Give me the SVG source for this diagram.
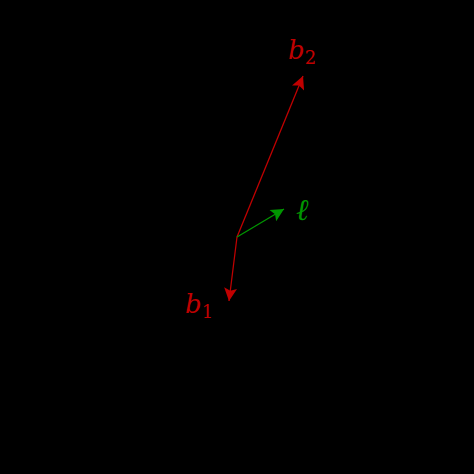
<svg xmlns="http://www.w3.org/2000/svg" width="474" height="474" viewBox="0 0 474 474">
<defs>
<marker id="ar" viewBox="0 0 10 10" refX="10" refY="5" markerWidth="16" markerHeight="13" markerUnits="userSpaceOnUse" orient="auto"><path d="M0,0 L10,5 L0,10 L2,5 Z" fill="#c00000"/></marker>
<marker id="ag" viewBox="0 0 10 10" refX="10" refY="5" markerWidth="16" markerHeight="13" markerUnits="userSpaceOnUse" orient="auto"><path d="M0,0 L10,5 L0,10 L2,5 Z" fill="#009600"/></marker>
<style>
.lr{stroke:#c00000;stroke-width:1.3;fill:none}
.lg{stroke:#009600;stroke-width:1.3;fill:none}
.t{font-family:"DejaVu Serif","Liberation Serif",serif;font-style:italic}
</style>
</defs>
<rect width="474" height="474" fill="#000"/>
<g id="connectors">
<path class="lr" d="M237,237 L229,301" marker-end="url(#ar)"/>
<path class="lr" d="M237,237 L303,76" marker-end="url(#ar)"/>
<path class="lg" d="M237,237 L284,209" marker-end="url(#ag)"/>
</g>
<g id="b1"><text class="t" x="185" y="313" font-size="26" fill="#c00000">b<tspan font-size="18" font-style="normal" dy="5">1</tspan></text></g>
<g id="b2"><text class="t" x="288" y="59" font-size="26" fill="#c00000">b<tspan font-size="18" font-style="normal" dy="5">2</tspan></text></g>
<g id="l"><text class="t" x="296" y="220" font-size="30" fill="#009600">ℓ</text></g>
</svg>
